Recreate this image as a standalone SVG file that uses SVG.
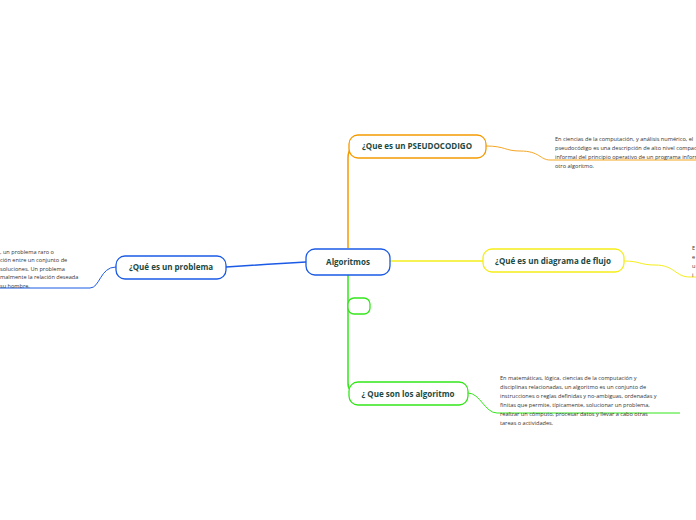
<svg xmlns="http://www.w3.org/2000/svg" width="696" height="520" viewBox="0 0 696 520">
<style>
.n{fill:#fff;stroke-width:1.3}
.t{font-family:"Open Sans","Noto Sans",sans-serif;font-weight:bold;fill:#1b4a44;font-size:8px}
.d{font-family:"Open Sans","Noto Sans",sans-serif;fill:#333;font-size:5.6px}
.c{fill:none}
</style>
<rect width="696" height="520" fill="#fff"/>
<g id="connectors">
<path class="c" d="M348 248 V158 Q348 146 358 146" stroke="#f59a00" stroke-width="1.5"/>
<path class="c" d="M348 274 V383 Q348 393 358 393" stroke="#33e61a" stroke-width="1.5"/>
<path class="c" d="M390 261 H483" stroke="#f5ee1a" stroke-width="1.5"/>
<path class="c" d="M306 262 Q270 264 226 267" stroke="#1a5ae6" stroke-width="1.5"/>
<path class="c" d="M486 146 C505 146 505 151 520 151 C540 151 540 160 550 160 H696" stroke="#f5a623" stroke-width="1"/>
<path class="c" d="M624 261 C640 261 640 265 655 265 C675 265 675 277 690 277 H696" stroke="#f5ee1a" stroke-width="1"/>
<path class="c" d="M468 393 C480 393 485 413 497 413 H680" stroke="#33e61a" stroke-width="1"/>
<path class="c" d="M116 267 C100 267 100 288 90 288 H0" stroke="#1a5ae6" stroke-width="1"/>
</g>
<g id="central"><rect class="n" x="306" y="249" width="84" height="26" rx="9" stroke="#1a5ae6"/><text class="t" x="348" y="265" text-anchor="middle" font-size="10">Algoritmos</text></g>
<g id="pseudo"><rect class="n" x="349" y="135" width="137" height="23" rx="9" stroke="#f59a00"/><text class="t" x="417" y="149" text-anchor="middle">¿Que es un PSEUDOCODIGO</text></g>
<g id="flujo"><rect class="n" x="483" y="249" width="141" height="23" rx="9" stroke="#f5ee1a"/><text class="t" x="553" y="264" text-anchor="middle">¿Qué es un diagrama de flujo</text></g>
<g id="problema"><rect class="n" x="116" y="256" width="110" height="23" rx="9" stroke="#1a5ae6"/><text class="t" x="171" y="270" text-anchor="middle">¿Qué es un problema</text></g>
<g id="vacio"><rect class="n" x="348" y="298" width="22" height="16" rx="6" stroke="#33e61a"/></g>
<g id="algoritmo"><rect class="n" x="349" y="382" width="119" height="23" rx="9" stroke="#33e61a"/><text class="t" x="408" y="397" text-anchor="middle">¿ Que son los algoritmo</text></g>
<g id="txt-pseudo" class="d">
<text x="555" y="141">En ciencias de la computación, y análisis numérico, el</text>
<text x="555" y="150">pseudocódigo es una descripción de alto nivel compacta e</text>
<text x="555" y="159">informal del principio operativo de un programa informático u</text>
<text x="555" y="168">otro algoritmo.</text>
</g>
<g id="txt-flujo" class="d">
<text x="692" y="250">E</text><text x="692" y="259">e</text><text x="692" y="268">u</text><text x="692" y="277">i</text>
</g>
<g id="txt-alg" class="d">
<text x="500" y="380">En matemáticas, lógica, ciencias de la computación y</text>
<text x="500" y="389">disciplinas relacionadas, un algoritmo  es un conjunto de</text>
<text x="500" y="398">instrucciones o reglas definidas y no-ambiguas, ordenadas y</text>
<text x="500" y="407">finitas que permite, típicamente, solucionar un problema,</text>
<text x="500" y="416">realizar un cómputo, procesar datos y llevar a cabo otras</text>
<text x="500" y="425">tareas o actividades.</text>
</g>
<g id="txt-prob" class="d">
<text x="0" y="254">, un problema raro o</text>
<text x="0" y="262">ción entre un conjunto de</text>
<text x="0" y="271">soluciones. Un problema</text>
<text x="0" y="279">malmente la relación deseada</text>
<text x="0" y="288">su hombre.</text>
</g>
</svg>
